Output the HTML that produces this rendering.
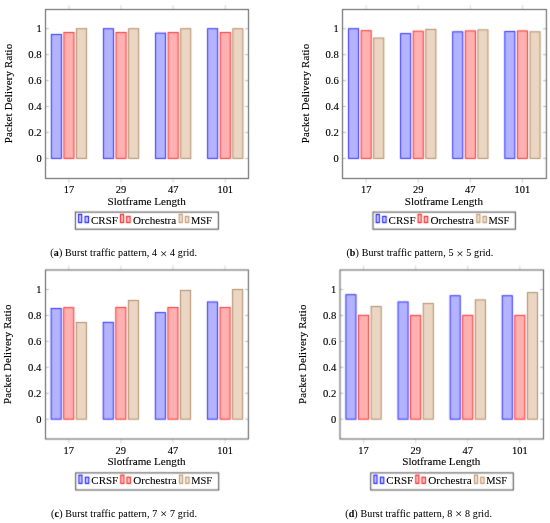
<!DOCTYPE html>
<html><head><meta charset="utf-8"><title>Packet Delivery Ratio</title>
<style>
html,body{margin:0;padding:0;background:#fff;}
body{width:550px;height:523px;overflow:hidden;}
svg{display:block;}

text{font-family:'Liberation Serif', 'DejaVu Serif', serif;fill:#000;stroke:#000;stroke-width:0.12px;}
</style></head><body>
<div class="wrap"><svg width="550" height="523" viewBox="0 0 550 523">
<defs><filter id="bl" x="0" y="0" width="550" height="523" filterUnits="userSpaceOnUse" color-interpolation-filters="sRGB"><feConvolveMatrix order="3" kernelMatrix="225 1050 225 1050 4900 1050 225 1050 225" divisor="10000" edgeMode="duplicate" preserveAlpha="true"/></filter></defs>
<g filter="url(#bl)">
<rect width="550" height="523" fill="#fff"/>
<rect x="51.3" y="34.41" width="10.1" height="123.99" fill="#b3b3ff" stroke="#1010ff" stroke-width="0.85"/>
<rect x="63.9" y="32.46" width="10.1" height="125.94" fill="#ffb0b0" stroke="#ff1010" stroke-width="0.85"/>
<rect x="76.5" y="28.7" width="10.1" height="129.7" fill="#ead6c2" stroke="#a47a52" stroke-width="0.85"/>
<rect x="103.4" y="28.7" width="10.1" height="129.7" fill="#b3b3ff" stroke="#1010ff" stroke-width="0.85"/>
<rect x="116" y="32.46" width="10.1" height="125.94" fill="#ffb0b0" stroke="#ff1010" stroke-width="0.85"/>
<rect x="128.6" y="28.7" width="10.1" height="129.7" fill="#ead6c2" stroke="#a47a52" stroke-width="0.85"/>
<rect x="155.5" y="33.11" width="10.1" height="125.29" fill="#b3b3ff" stroke="#1010ff" stroke-width="0.85"/>
<rect x="168.1" y="32.46" width="10.1" height="125.94" fill="#ffb0b0" stroke="#ff1010" stroke-width="0.85"/>
<rect x="180.7" y="28.7" width="10.1" height="129.7" fill="#ead6c2" stroke="#a47a52" stroke-width="0.85"/>
<rect x="207.6" y="28.7" width="10.1" height="129.7" fill="#b3b3ff" stroke="#1010ff" stroke-width="0.85"/>
<rect x="220.2" y="32.46" width="10.1" height="125.94" fill="#ffb0b0" stroke="#ff1010" stroke-width="0.85"/>
<rect x="232.8" y="28.7" width="10.1" height="129.7" fill="#ead6c2" stroke="#a47a52" stroke-width="0.85"/>
<line x1="45.5" y1="158.4" x2="48.8" y2="158.4" stroke="#8a8a8a" stroke-width="0.6"/>
<line x1="245.2" y1="158.4" x2="248.5" y2="158.4" stroke="#8a8a8a" stroke-width="0.6"/>
<line x1="45.5" y1="132.46" x2="48.8" y2="132.46" stroke="#8a8a8a" stroke-width="0.6"/>
<line x1="245.2" y1="132.46" x2="248.5" y2="132.46" stroke="#8a8a8a" stroke-width="0.6"/>
<line x1="45.5" y1="106.52" x2="48.8" y2="106.52" stroke="#8a8a8a" stroke-width="0.6"/>
<line x1="245.2" y1="106.52" x2="248.5" y2="106.52" stroke="#8a8a8a" stroke-width="0.6"/>
<line x1="45.5" y1="80.58" x2="48.8" y2="80.58" stroke="#8a8a8a" stroke-width="0.6"/>
<line x1="245.2" y1="80.58" x2="248.5" y2="80.58" stroke="#8a8a8a" stroke-width="0.6"/>
<line x1="45.5" y1="54.64" x2="48.8" y2="54.64" stroke="#8a8a8a" stroke-width="0.6"/>
<line x1="245.2" y1="54.64" x2="248.5" y2="54.64" stroke="#8a8a8a" stroke-width="0.6"/>
<line x1="45.5" y1="28.7" x2="48.8" y2="28.7" stroke="#8a8a8a" stroke-width="0.6"/>
<line x1="245.2" y1="28.7" x2="248.5" y2="28.7" stroke="#8a8a8a" stroke-width="0.6"/>
<line x1="68.95" y1="5" x2="68.95" y2="9.5" stroke="#b8b8b8" stroke-width="0.6"/>
<line x1="68.95" y1="178.5" x2="68.95" y2="183" stroke="#b8b8b8" stroke-width="0.6"/>
<line x1="121.05" y1="5" x2="121.05" y2="9.5" stroke="#b8b8b8" stroke-width="0.6"/>
<line x1="121.05" y1="178.5" x2="121.05" y2="183" stroke="#b8b8b8" stroke-width="0.6"/>
<line x1="173.15" y1="5" x2="173.15" y2="9.5" stroke="#b8b8b8" stroke-width="0.6"/>
<line x1="173.15" y1="178.5" x2="173.15" y2="183" stroke="#b8b8b8" stroke-width="0.6"/>
<line x1="225.25" y1="5" x2="225.25" y2="9.5" stroke="#b8b8b8" stroke-width="0.6"/>
<line x1="225.25" y1="178.5" x2="225.25" y2="183" stroke="#b8b8b8" stroke-width="0.6"/>
<rect x="45.5" y="9.5" width="203" height="169" fill="none" stroke="#555555" stroke-width="1"/>
<rect x="75.4" y="212.1" width="143" height="17.1" fill="#fff" stroke="#444" stroke-width="1"/>
<rect x="78.6" y="214.4" width="3.1" height="8.2" fill="#d8d8ff" stroke="#0000ff" stroke-width="1"/>
<rect x="85.1" y="216.4" width="3.4" height="6.2" fill="#d8d8ff" stroke="#0000ff" stroke-width="1"/>
<rect x="120.5" y="214.4" width="3.1" height="8.2" fill="#ffd8d8" stroke="#ff0000" stroke-width="1"/>
<rect x="126.7" y="216.4" width="3.4" height="6.2" fill="#ffd8d8" stroke="#ff0000" stroke-width="1"/>
<rect x="179.2" y="214.4" width="3.1" height="8.2" fill="#f2e6da" stroke="#b8895c" stroke-width="1"/>
<rect x="185.4" y="216.4" width="3.4" height="6.2" fill="#f2e6da" stroke="#b8895c" stroke-width="1"/>
<rect x="348.5" y="28.7" width="10.1" height="129.7" fill="#b3b3ff" stroke="#1010ff" stroke-width="0.85"/>
<rect x="361.1" y="30.65" width="10.1" height="127.75" fill="#ffb0b0" stroke="#ff1010" stroke-width="0.85"/>
<rect x="373.7" y="38.04" width="10.1" height="120.36" fill="#ead6c2" stroke="#a47a52" stroke-width="0.85"/>
<rect x="400.6" y="33.63" width="10.1" height="124.77" fill="#b3b3ff" stroke="#1010ff" stroke-width="0.85"/>
<rect x="413.2" y="31.16" width="10.1" height="127.24" fill="#ffb0b0" stroke="#ff1010" stroke-width="0.85"/>
<rect x="425.8" y="29.35" width="10.1" height="129.05" fill="#ead6c2" stroke="#a47a52" stroke-width="0.85"/>
<rect x="452.7" y="31.81" width="10.1" height="126.59" fill="#b3b3ff" stroke="#1010ff" stroke-width="0.85"/>
<rect x="465.3" y="30.9" width="10.1" height="127.5" fill="#ffb0b0" stroke="#ff1010" stroke-width="0.85"/>
<rect x="477.9" y="29.87" width="10.1" height="128.53" fill="#ead6c2" stroke="#a47a52" stroke-width="0.85"/>
<rect x="504.8" y="31.55" width="10.1" height="126.85" fill="#b3b3ff" stroke="#1010ff" stroke-width="0.85"/>
<rect x="517.4" y="30.9" width="10.1" height="127.5" fill="#ffb0b0" stroke="#ff1010" stroke-width="0.85"/>
<rect x="530" y="31.81" width="10.1" height="126.59" fill="#ead6c2" stroke="#a47a52" stroke-width="0.85"/>
<line x1="342.5" y1="158.4" x2="345.8" y2="158.4" stroke="#8a8a8a" stroke-width="0.6"/>
<line x1="543.1" y1="158.4" x2="546.4" y2="158.4" stroke="#8a8a8a" stroke-width="0.6"/>
<line x1="342.5" y1="132.46" x2="345.8" y2="132.46" stroke="#8a8a8a" stroke-width="0.6"/>
<line x1="543.1" y1="132.46" x2="546.4" y2="132.46" stroke="#8a8a8a" stroke-width="0.6"/>
<line x1="342.5" y1="106.52" x2="345.8" y2="106.52" stroke="#8a8a8a" stroke-width="0.6"/>
<line x1="543.1" y1="106.52" x2="546.4" y2="106.52" stroke="#8a8a8a" stroke-width="0.6"/>
<line x1="342.5" y1="80.58" x2="345.8" y2="80.58" stroke="#8a8a8a" stroke-width="0.6"/>
<line x1="543.1" y1="80.58" x2="546.4" y2="80.58" stroke="#8a8a8a" stroke-width="0.6"/>
<line x1="342.5" y1="54.64" x2="345.8" y2="54.64" stroke="#8a8a8a" stroke-width="0.6"/>
<line x1="543.1" y1="54.64" x2="546.4" y2="54.64" stroke="#8a8a8a" stroke-width="0.6"/>
<line x1="342.5" y1="28.7" x2="345.8" y2="28.7" stroke="#8a8a8a" stroke-width="0.6"/>
<line x1="543.1" y1="28.7" x2="546.4" y2="28.7" stroke="#8a8a8a" stroke-width="0.6"/>
<line x1="366.15" y1="5" x2="366.15" y2="9.5" stroke="#b8b8b8" stroke-width="0.6"/>
<line x1="366.15" y1="178.5" x2="366.15" y2="183" stroke="#b8b8b8" stroke-width="0.6"/>
<line x1="418.25" y1="5" x2="418.25" y2="9.5" stroke="#b8b8b8" stroke-width="0.6"/>
<line x1="418.25" y1="178.5" x2="418.25" y2="183" stroke="#b8b8b8" stroke-width="0.6"/>
<line x1="470.35" y1="5" x2="470.35" y2="9.5" stroke="#b8b8b8" stroke-width="0.6"/>
<line x1="470.35" y1="178.5" x2="470.35" y2="183" stroke="#b8b8b8" stroke-width="0.6"/>
<line x1="522.45" y1="5" x2="522.45" y2="9.5" stroke="#b8b8b8" stroke-width="0.6"/>
<line x1="522.45" y1="178.5" x2="522.45" y2="183" stroke="#b8b8b8" stroke-width="0.6"/>
<rect x="342.5" y="9.5" width="203.9" height="169" fill="none" stroke="#555555" stroke-width="1"/>
<rect x="373" y="212.1" width="142.4" height="17.1" fill="#fff" stroke="#444" stroke-width="1"/>
<rect x="376.2" y="214.4" width="3.1" height="8.2" fill="#d8d8ff" stroke="#0000ff" stroke-width="1"/>
<rect x="382.7" y="216.4" width="3.4" height="6.2" fill="#d8d8ff" stroke="#0000ff" stroke-width="1"/>
<rect x="418.1" y="214.4" width="3.1" height="8.2" fill="#ffd8d8" stroke="#ff0000" stroke-width="1"/>
<rect x="424.3" y="216.4" width="3.4" height="6.2" fill="#ffd8d8" stroke="#ff0000" stroke-width="1"/>
<rect x="476.8" y="214.4" width="3.1" height="8.2" fill="#f2e6da" stroke="#b8895c" stroke-width="1"/>
<rect x="483" y="216.4" width="3.4" height="6.2" fill="#f2e6da" stroke="#b8895c" stroke-width="1"/>
<rect x="51.1" y="308.44" width="10.1" height="110.76" fill="#b3b3ff" stroke="#1010ff" stroke-width="0.85"/>
<rect x="63.7" y="307.66" width="10.1" height="111.54" fill="#ffb0b0" stroke="#ff1010" stroke-width="0.85"/>
<rect x="76.3" y="322.44" width="10.1" height="96.76" fill="#ead6c2" stroke="#a47a52" stroke-width="0.85"/>
<rect x="103.2" y="322.31" width="10.1" height="96.89" fill="#b3b3ff" stroke="#1010ff" stroke-width="0.85"/>
<rect x="115.8" y="307.4" width="10.1" height="111.8" fill="#ffb0b0" stroke="#ff1010" stroke-width="0.85"/>
<rect x="128.4" y="300.52" width="10.1" height="118.68" fill="#ead6c2" stroke="#a47a52" stroke-width="0.85"/>
<rect x="155.3" y="312.59" width="10.1" height="106.61" fill="#b3b3ff" stroke="#1010ff" stroke-width="0.85"/>
<rect x="167.9" y="307.53" width="10.1" height="111.67" fill="#ffb0b0" stroke="#ff1010" stroke-width="0.85"/>
<rect x="180.5" y="290.41" width="10.1" height="128.79" fill="#ead6c2" stroke="#a47a52" stroke-width="0.85"/>
<rect x="207.4" y="301.95" width="10.1" height="117.25" fill="#b3b3ff" stroke="#1010ff" stroke-width="0.85"/>
<rect x="220" y="307.53" width="10.1" height="111.67" fill="#ffb0b0" stroke="#ff1010" stroke-width="0.85"/>
<rect x="232.6" y="289.5" width="10.1" height="129.7" fill="#ead6c2" stroke="#a47a52" stroke-width="0.85"/>
<line x1="45.5" y1="419.2" x2="48.8" y2="419.2" stroke="#8a8a8a" stroke-width="0.6"/>
<line x1="245.1" y1="419.2" x2="248.4" y2="419.2" stroke="#8a8a8a" stroke-width="0.6"/>
<line x1="45.5" y1="393.26" x2="48.8" y2="393.26" stroke="#8a8a8a" stroke-width="0.6"/>
<line x1="245.1" y1="393.26" x2="248.4" y2="393.26" stroke="#8a8a8a" stroke-width="0.6"/>
<line x1="45.5" y1="367.32" x2="48.8" y2="367.32" stroke="#8a8a8a" stroke-width="0.6"/>
<line x1="245.1" y1="367.32" x2="248.4" y2="367.32" stroke="#8a8a8a" stroke-width="0.6"/>
<line x1="45.5" y1="341.38" x2="48.8" y2="341.38" stroke="#8a8a8a" stroke-width="0.6"/>
<line x1="245.1" y1="341.38" x2="248.4" y2="341.38" stroke="#8a8a8a" stroke-width="0.6"/>
<line x1="45.5" y1="315.44" x2="48.8" y2="315.44" stroke="#8a8a8a" stroke-width="0.6"/>
<line x1="245.1" y1="315.44" x2="248.4" y2="315.44" stroke="#8a8a8a" stroke-width="0.6"/>
<line x1="45.5" y1="289.5" x2="48.8" y2="289.5" stroke="#8a8a8a" stroke-width="0.6"/>
<line x1="245.1" y1="289.5" x2="248.4" y2="289.5" stroke="#8a8a8a" stroke-width="0.6"/>
<line x1="68.75" y1="265.5" x2="68.75" y2="270" stroke="#b8b8b8" stroke-width="0.6"/>
<line x1="68.75" y1="439" x2="68.75" y2="443.5" stroke="#b8b8b8" stroke-width="0.6"/>
<line x1="120.85" y1="265.5" x2="120.85" y2="270" stroke="#b8b8b8" stroke-width="0.6"/>
<line x1="120.85" y1="439" x2="120.85" y2="443.5" stroke="#b8b8b8" stroke-width="0.6"/>
<line x1="172.95" y1="265.5" x2="172.95" y2="270" stroke="#b8b8b8" stroke-width="0.6"/>
<line x1="172.95" y1="439" x2="172.95" y2="443.5" stroke="#b8b8b8" stroke-width="0.6"/>
<line x1="225.05" y1="265.5" x2="225.05" y2="270" stroke="#b8b8b8" stroke-width="0.6"/>
<line x1="225.05" y1="439" x2="225.05" y2="443.5" stroke="#b8b8b8" stroke-width="0.6"/>
<rect x="45.5" y="270" width="202.9" height="169" fill="none" stroke="#555555" stroke-width="1"/>
<rect x="75.7" y="472.9" width="143.0" height="17.1" fill="#fff" stroke="#444" stroke-width="1"/>
<rect x="78.9" y="475.2" width="3.1" height="8.2" fill="#d8d8ff" stroke="#0000ff" stroke-width="1"/>
<rect x="85.4" y="477.2" width="3.4" height="6.2" fill="#d8d8ff" stroke="#0000ff" stroke-width="1"/>
<rect x="120.8" y="475.2" width="3.1" height="8.2" fill="#ffd8d8" stroke="#ff0000" stroke-width="1"/>
<rect x="127" y="477.2" width="3.4" height="6.2" fill="#ffd8d8" stroke="#ff0000" stroke-width="1"/>
<rect x="179.5" y="475.2" width="3.1" height="8.2" fill="#f2e6da" stroke="#b8895c" stroke-width="1"/>
<rect x="185.7" y="477.2" width="3.4" height="6.2" fill="#f2e6da" stroke="#b8895c" stroke-width="1"/>
<rect x="345.9" y="294.69" width="10.1" height="124.51" fill="#b3b3ff" stroke="#1010ff" stroke-width="0.85"/>
<rect x="358.5" y="315.31" width="10.1" height="103.89" fill="#ffb0b0" stroke="#ff1010" stroke-width="0.85"/>
<rect x="371.1" y="306.49" width="10.1" height="112.71" fill="#ead6c2" stroke="#a47a52" stroke-width="0.85"/>
<rect x="398" y="301.95" width="10.1" height="117.25" fill="#b3b3ff" stroke="#1010ff" stroke-width="0.85"/>
<rect x="410.6" y="315.31" width="10.1" height="103.89" fill="#ffb0b0" stroke="#ff1010" stroke-width="0.85"/>
<rect x="423.2" y="303.51" width="10.1" height="115.69" fill="#ead6c2" stroke="#a47a52" stroke-width="0.85"/>
<rect x="450.1" y="295.73" width="10.1" height="123.47" fill="#b3b3ff" stroke="#1010ff" stroke-width="0.85"/>
<rect x="462.7" y="315.31" width="10.1" height="103.89" fill="#ffb0b0" stroke="#ff1010" stroke-width="0.85"/>
<rect x="475.3" y="299.88" width="10.1" height="119.32" fill="#ead6c2" stroke="#a47a52" stroke-width="0.85"/>
<rect x="502.2" y="295.73" width="10.1" height="123.47" fill="#b3b3ff" stroke="#1010ff" stroke-width="0.85"/>
<rect x="514.8" y="315.31" width="10.1" height="103.89" fill="#ffb0b0" stroke="#ff1010" stroke-width="0.85"/>
<rect x="527.4" y="292.61" width="10.1" height="126.59" fill="#ead6c2" stroke="#a47a52" stroke-width="0.85"/>
<line x1="340" y1="419.2" x2="343.3" y2="419.2" stroke="#8a8a8a" stroke-width="0.6"/>
<line x1="540.2" y1="419.2" x2="543.5" y2="419.2" stroke="#8a8a8a" stroke-width="0.6"/>
<line x1="340" y1="393.26" x2="343.3" y2="393.26" stroke="#8a8a8a" stroke-width="0.6"/>
<line x1="540.2" y1="393.26" x2="543.5" y2="393.26" stroke="#8a8a8a" stroke-width="0.6"/>
<line x1="340" y1="367.32" x2="343.3" y2="367.32" stroke="#8a8a8a" stroke-width="0.6"/>
<line x1="540.2" y1="367.32" x2="543.5" y2="367.32" stroke="#8a8a8a" stroke-width="0.6"/>
<line x1="340" y1="341.38" x2="343.3" y2="341.38" stroke="#8a8a8a" stroke-width="0.6"/>
<line x1="540.2" y1="341.38" x2="543.5" y2="341.38" stroke="#8a8a8a" stroke-width="0.6"/>
<line x1="340" y1="315.44" x2="343.3" y2="315.44" stroke="#8a8a8a" stroke-width="0.6"/>
<line x1="540.2" y1="315.44" x2="543.5" y2="315.44" stroke="#8a8a8a" stroke-width="0.6"/>
<line x1="340" y1="289.5" x2="343.3" y2="289.5" stroke="#8a8a8a" stroke-width="0.6"/>
<line x1="540.2" y1="289.5" x2="543.5" y2="289.5" stroke="#8a8a8a" stroke-width="0.6"/>
<line x1="363.55" y1="265.5" x2="363.55" y2="270" stroke="#b8b8b8" stroke-width="0.6"/>
<line x1="363.55" y1="439" x2="363.55" y2="443.5" stroke="#b8b8b8" stroke-width="0.6"/>
<line x1="415.65" y1="265.5" x2="415.65" y2="270" stroke="#b8b8b8" stroke-width="0.6"/>
<line x1="415.65" y1="439" x2="415.65" y2="443.5" stroke="#b8b8b8" stroke-width="0.6"/>
<line x1="467.75" y1="265.5" x2="467.75" y2="270" stroke="#b8b8b8" stroke-width="0.6"/>
<line x1="467.75" y1="439" x2="467.75" y2="443.5" stroke="#b8b8b8" stroke-width="0.6"/>
<line x1="519.85" y1="265.5" x2="519.85" y2="270" stroke="#b8b8b8" stroke-width="0.6"/>
<line x1="519.85" y1="439" x2="519.85" y2="443.5" stroke="#b8b8b8" stroke-width="0.6"/>
<rect x="340" y="270" width="203.5" height="169" fill="none" stroke="#555555" stroke-width="1"/>
<rect x="370.7" y="472.9" width="142.6" height="17.1" fill="#fff" stroke="#444" stroke-width="1"/>
<rect x="373.9" y="475.2" width="3.1" height="8.2" fill="#d8d8ff" stroke="#0000ff" stroke-width="1"/>
<rect x="380.4" y="477.2" width="3.4" height="6.2" fill="#d8d8ff" stroke="#0000ff" stroke-width="1"/>
<rect x="415.8" y="475.2" width="3.1" height="8.2" fill="#ffd8d8" stroke="#ff0000" stroke-width="1"/>
<rect x="422" y="477.2" width="3.4" height="6.2" fill="#ffd8d8" stroke="#ff0000" stroke-width="1"/>
<rect x="474.5" y="475.2" width="3.1" height="8.2" fill="#f2e6da" stroke="#b8895c" stroke-width="1"/>
<rect x="480.7" y="477.2" width="3.4" height="6.2" fill="#f2e6da" stroke="#b8895c" stroke-width="1"/>
</g>
<g>
<text x="41.65" y="161.7" text-anchor="end" font-size="10" textLength="5.22" lengthAdjust="spacingAndGlyphs">0</text>
<text x="41.65" y="135.76" text-anchor="end" font-size="10" textLength="13.34" lengthAdjust="spacingAndGlyphs">0.2</text>
<text x="41.65" y="109.82" text-anchor="end" font-size="10" textLength="13.34" lengthAdjust="spacingAndGlyphs">0.4</text>
<text x="41.65" y="83.88" text-anchor="end" font-size="10" textLength="13.34" lengthAdjust="spacingAndGlyphs">0.6</text>
<text x="41.65" y="57.94" text-anchor="end" font-size="10" textLength="13.34" lengthAdjust="spacingAndGlyphs">0.8</text>
<text x="41.65" y="32" text-anchor="end" font-size="10" textLength="5.22" lengthAdjust="spacingAndGlyphs">1</text>
<text x="68.95" y="193" text-anchor="middle" font-size="10" textLength="10.44" lengthAdjust="spacingAndGlyphs">17</text>
<text x="121.05" y="193" text-anchor="middle" font-size="10" textLength="10.44" lengthAdjust="spacingAndGlyphs">29</text>
<text x="173.15" y="193" text-anchor="middle" font-size="10" textLength="10.44" lengthAdjust="spacingAndGlyphs">47</text>
<text x="225.25" y="193" text-anchor="middle" font-size="10" textLength="15.66" lengthAdjust="spacingAndGlyphs">101</text>
<text x="107.6" y="204.5" font-size="10.3" textLength="78.2" lengthAdjust="spacingAndGlyphs" style="stroke-width:0.1px">Slotframe Length</text>
<text transform="translate(11.6,143.2) rotate(-90)" x="0" y="0" font-size="10.8" textLength="99.4" lengthAdjust="spacing" style="stroke-width:0.15px">Packet Delivery Ratio</text>
<text x="91" y="223.5" font-size="10.4" textLength="26.9" lengthAdjust="spacingAndGlyphs" style="stroke-width:0.08px">CRSF</text>
<text x="132.9" y="223.5" font-size="10.4" textLength="43.4" lengthAdjust="spacingAndGlyphs" style="stroke-width:0.08px">Orchestra</text>
<text x="190.9" y="223.5" font-size="10.4" textLength="20.9" lengthAdjust="spacingAndGlyphs" style="stroke-width:0.08px">MSF</text>
<text style="stroke-width:0.05px" x="50.3" y="256.1" font-size="10" textLength="146.7" lengthAdjust="spacing">(<tspan font-weight="bold">a</tspan>) Burst traffic pattern, 4 <tspan font-size="13" dy="1.6" style="stroke-width:0px">×</tspan><tspan dy="-1.6"> 4</tspan> grid.</text>
<text x="338.85" y="161.7" text-anchor="end" font-size="10" textLength="5.22" lengthAdjust="spacingAndGlyphs">0</text>
<text x="338.85" y="135.76" text-anchor="end" font-size="10" textLength="13.34" lengthAdjust="spacingAndGlyphs">0.2</text>
<text x="338.85" y="109.82" text-anchor="end" font-size="10" textLength="13.34" lengthAdjust="spacingAndGlyphs">0.4</text>
<text x="338.85" y="83.88" text-anchor="end" font-size="10" textLength="13.34" lengthAdjust="spacingAndGlyphs">0.6</text>
<text x="338.85" y="57.94" text-anchor="end" font-size="10" textLength="13.34" lengthAdjust="spacingAndGlyphs">0.8</text>
<text x="338.85" y="32" text-anchor="end" font-size="10" textLength="5.22" lengthAdjust="spacingAndGlyphs">1</text>
<text x="366.15" y="193" text-anchor="middle" font-size="10" textLength="10.44" lengthAdjust="spacingAndGlyphs">17</text>
<text x="418.25" y="193" text-anchor="middle" font-size="10" textLength="10.44" lengthAdjust="spacingAndGlyphs">29</text>
<text x="470.35" y="193" text-anchor="middle" font-size="10" textLength="10.44" lengthAdjust="spacingAndGlyphs">47</text>
<text x="522.45" y="193" text-anchor="middle" font-size="10" textLength="15.66" lengthAdjust="spacingAndGlyphs">101</text>
<text x="404.8" y="204.5" font-size="10.3" textLength="78.2" lengthAdjust="spacingAndGlyphs" style="stroke-width:0.1px">Slotframe Length</text>
<text transform="translate(308.8,143.2) rotate(-90)" x="0" y="0" font-size="10.8" textLength="99.4" lengthAdjust="spacing" style="stroke-width:0.15px">Packet Delivery Ratio</text>
<text x="388.6" y="223.5" font-size="10.4" textLength="26.9" lengthAdjust="spacingAndGlyphs" style="stroke-width:0.08px">CRSF</text>
<text x="430.5" y="223.5" font-size="10.4" textLength="43.4" lengthAdjust="spacingAndGlyphs" style="stroke-width:0.08px">Orchestra</text>
<text x="488.5" y="223.5" font-size="10.4" textLength="20.9" lengthAdjust="spacingAndGlyphs" style="stroke-width:0.08px">MSF</text>
<text style="stroke-width:0.05px" x="346.4" y="256.1" font-size="10" textLength="146.8" lengthAdjust="spacing">(<tspan font-weight="bold">b</tspan>) Burst traffic pattern, 5 <tspan font-size="13" dy="1.6" style="stroke-width:0px">×</tspan><tspan dy="-1.6"> 5</tspan> grid.</text>
<text x="41.45" y="422.5" text-anchor="end" font-size="10" textLength="5.22" lengthAdjust="spacingAndGlyphs">0</text>
<text x="41.45" y="396.56" text-anchor="end" font-size="10" textLength="13.34" lengthAdjust="spacingAndGlyphs">0.2</text>
<text x="41.45" y="370.62" text-anchor="end" font-size="10" textLength="13.34" lengthAdjust="spacingAndGlyphs">0.4</text>
<text x="41.45" y="344.68" text-anchor="end" font-size="10" textLength="13.34" lengthAdjust="spacingAndGlyphs">0.6</text>
<text x="41.45" y="318.74" text-anchor="end" font-size="10" textLength="13.34" lengthAdjust="spacingAndGlyphs">0.8</text>
<text x="41.45" y="292.8" text-anchor="end" font-size="10" textLength="5.22" lengthAdjust="spacingAndGlyphs">1</text>
<text x="68.75" y="453.8" text-anchor="middle" font-size="10" textLength="10.44" lengthAdjust="spacingAndGlyphs">17</text>
<text x="120.85" y="453.8" text-anchor="middle" font-size="10" textLength="10.44" lengthAdjust="spacingAndGlyphs">29</text>
<text x="172.95" y="453.8" text-anchor="middle" font-size="10" textLength="10.44" lengthAdjust="spacingAndGlyphs">47</text>
<text x="225.05" y="453.8" text-anchor="middle" font-size="10" textLength="15.66" lengthAdjust="spacingAndGlyphs">101</text>
<text x="107.4" y="465.3" font-size="10.3" textLength="78.2" lengthAdjust="spacingAndGlyphs" style="stroke-width:0.1px">Slotframe Length</text>
<text transform="translate(11.4,404) rotate(-90)" x="0" y="0" font-size="10.8" textLength="99.4" lengthAdjust="spacing" style="stroke-width:0.15px">Packet Delivery Ratio</text>
<text x="91.3" y="484.3" font-size="10.4" textLength="26.9" lengthAdjust="spacingAndGlyphs" style="stroke-width:0.08px">CRSF</text>
<text x="133.2" y="484.3" font-size="10.4" textLength="43.4" lengthAdjust="spacingAndGlyphs" style="stroke-width:0.08px">Orchestra</text>
<text x="191.2" y="484.3" font-size="10.4" textLength="20.9" lengthAdjust="spacingAndGlyphs" style="stroke-width:0.08px">MSF</text>
<text style="stroke-width:0.05px" x="51.1" y="516.7" font-size="10" textLength="145.9" lengthAdjust="spacing">(<tspan font-weight="bold">c</tspan>) Burst traffic pattern, 7 <tspan font-size="13" dy="1.6" style="stroke-width:0px">×</tspan><tspan dy="-1.6"> 7</tspan> grid.</text>
<text x="336.25" y="422.5" text-anchor="end" font-size="10" textLength="5.22" lengthAdjust="spacingAndGlyphs">0</text>
<text x="336.25" y="396.56" text-anchor="end" font-size="10" textLength="13.34" lengthAdjust="spacingAndGlyphs">0.2</text>
<text x="336.25" y="370.62" text-anchor="end" font-size="10" textLength="13.34" lengthAdjust="spacingAndGlyphs">0.4</text>
<text x="336.25" y="344.68" text-anchor="end" font-size="10" textLength="13.34" lengthAdjust="spacingAndGlyphs">0.6</text>
<text x="336.25" y="318.74" text-anchor="end" font-size="10" textLength="13.34" lengthAdjust="spacingAndGlyphs">0.8</text>
<text x="336.25" y="292.8" text-anchor="end" font-size="10" textLength="5.22" lengthAdjust="spacingAndGlyphs">1</text>
<text x="363.55" y="453.8" text-anchor="middle" font-size="10" textLength="10.44" lengthAdjust="spacingAndGlyphs">17</text>
<text x="415.65" y="453.8" text-anchor="middle" font-size="10" textLength="10.44" lengthAdjust="spacingAndGlyphs">29</text>
<text x="467.75" y="453.8" text-anchor="middle" font-size="10" textLength="10.44" lengthAdjust="spacingAndGlyphs">47</text>
<text x="519.85" y="453.8" text-anchor="middle" font-size="10" textLength="15.66" lengthAdjust="spacingAndGlyphs">101</text>
<text x="402.2" y="465.3" font-size="10.3" textLength="78.2" lengthAdjust="spacingAndGlyphs" style="stroke-width:0.1px">Slotframe Length</text>
<text transform="translate(306.2,404) rotate(-90)" x="0" y="0" font-size="10.8" textLength="99.4" lengthAdjust="spacing" style="stroke-width:0.15px">Packet Delivery Ratio</text>
<text x="386.3" y="484.3" font-size="10.4" textLength="26.9" lengthAdjust="spacingAndGlyphs" style="stroke-width:0.08px">CRSF</text>
<text x="428.2" y="484.3" font-size="10.4" textLength="43.4" lengthAdjust="spacingAndGlyphs" style="stroke-width:0.08px">Orchestra</text>
<text x="486.2" y="484.3" font-size="10.4" textLength="20.9" lengthAdjust="spacingAndGlyphs" style="stroke-width:0.08px">MSF</text>
<text style="stroke-width:0.05px" x="345.2" y="516.7" font-size="10" textLength="146.7" lengthAdjust="spacing">(<tspan font-weight="bold">d</tspan>) Burst traffic pattern, 8 <tspan font-size="13" dy="1.6" style="stroke-width:0px">×</tspan><tspan dy="-1.6"> 8</tspan> grid.</text>
</g>
</svg></div>
</body></html>
